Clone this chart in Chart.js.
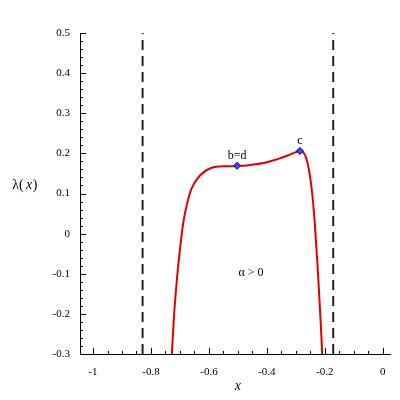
<!DOCTYPE html>
<html><head><script src="https://cdn.jsdelivr.net/npm/chart.js@4"></script>
<style>body{margin:0;background:#fff}#w{width:400px;height:400px}</style></head>
<body><div id="w"><canvas id="c"></canvas></div>
<script>
const curveX=[-0.728,-0.72,-0.71,-0.70,-0.69,-0.68,-0.67,-0.66,-0.64,-0.62,-0.60,-0.58,-0.55,-0.52,-0.50,-0.47,-0.45,-0.42,-0.40,-0.37,-0.35,-0.32,-0.30,-0.285,-0.275,-0.265,-0.255,-0.245,-0.235,-0.225,-0.215,-0.209];
const curveY=[-0.3,-0.2,-0.11,-0.04,0.02,0.06,0.09,0.112,0.137,0.152,0.161,0.166,0.168,0.168,0.169,0.170,0.172,0.175,0.178,0.184,0.189,0.197,0.203,0.207,0.203,0.19,0.16,0.11,0.03,-0.08,-0.21,-0.3];
const dashX=[-0.829,-0.171];
const pointsX=[-0.503,-0.286];
const pointsY=[0.169,0.206];
const pointLabels=["b=d","c"];
const xTicks=[-1,-0.8,-0.6,-0.4,-0.2,0];
const yTicks=[-0.3,-0.2,-0.1,0,0.1,0.2,0.3,0.4,0.5];
const note="α > 0", noteX=-0.455, noteY=-0.098;

const curve=curveX.map((x,i)=>({x,y:curveY[i]}));
const ds=[{data:pointsX.map((x,i)=>({x,y:pointsY[i]})),showLine:false,pointStyle:'rectRot',pointRadius:3.5,backgroundColor:'#4040ff',borderColor:'#000080',borderWidth:1,order:0},
 {data:curve,showLine:true,borderColor:'#e00000',borderWidth:2,pointRadius:0,cubicInterpolationMode:'monotone',order:1}];
dashX.forEach(x=>ds.push({data:[{x,y:-0.3},{x,y:0.5}],showLine:true,borderColor:'#222',borderWidth:2,borderDash:[10,6],pointRadius:0,order:2}));

const deco={id:'deco',afterDraw(ch){
 const c=ch.ctx,xs=ch.scales.x,ys=ch.scales.y,a=ch.chartArea;
 c.save();c.strokeStyle='#000';c.lineWidth=1;
 for(let v=-1;v<=0.001;v+=0.05){const px=Math.round(xs.getPixelForValue(v))+0.5;const L=Math.abs(v*10-Math.round(v*10))<0.01&&Math.round(v*10)%2==0?6:3;c.beginPath();c.moveTo(px,a.bottom);c.lineTo(px,a.bottom-L);c.stroke();}
 for(let k=-15;k<=25;k++){const v=k*0.02;const py=Math.round(ys.getPixelForValue(v))+0.5;const L=k%5==0?6:3;c.beginPath();c.moveTo(a.left,py);c.lineTo(a.left+L,py);c.stroke();}
 c.fillStyle='#000';c.textAlign='center';c.textBaseline='bottom';c.font='12px "Liberation Serif"';
 pointsX.forEach((x,i)=>c.fillText(pointLabels[i],xs.getPixelForValue(x),ys.getPixelForValue(pointsY[i])-4));
 c.textBaseline='middle';c.fillText(note,xs.getPixelForValue(noteX),ys.getPixelForValue(noteY));
 c.font='14px "Liberation Serif"';c.fillText('λ(',18,185);c.font='italic 14px "Liberation Serif"';c.fillText('x',29,185);c.font='14px "Liberation Serif"';c.fillText(')',35,185);
 c.font='italic 14px "Liberation Serif"';c.fillText('x',xs.getPixelForValue(-0.5),386);
 c.restore();}};

new Chart(document.getElementById('c'),{type:'scatter',data:{datasets:ds},plugins:[deco],
options:{responsive:true,maintainAspectRatio:false,animation:false,
 layout:{padding:{top:33,right:10,left:0,bottom:0}},
 plugins:{legend:{display:false},tooltip:{enabled:false}},
 scales:{
  x:{type:'linear',min:-1.045,max:0.025,afterBuildTicks:s=>{s.ticks=xTicks.map(v=>({value:v}))},afterFit:s=>{s.height=46},
     grid:{display:false},border:{display:true,color:'#000'},
     ticks:{color:'#000',font:{family:'Liberation Serif',size:11},padding:4,maxRotation:0,callback:v=>String(Math.round(v*10)/10)}},
  y:{type:'linear',min:-0.3,max:0.5,afterBuildTicks:s=>{s.ticks=yTicks.map(v=>({value:v}))},afterFit:s=>{s.width=80},
     grid:{display:false},border:{display:true,color:'#000'},
     ticks:{color:'#000',font:{family:'Liberation Serif',size:11},padding:2,callback:v=>String(Math.round(v*10)/10)}}
 }}});
</script></body></html>
